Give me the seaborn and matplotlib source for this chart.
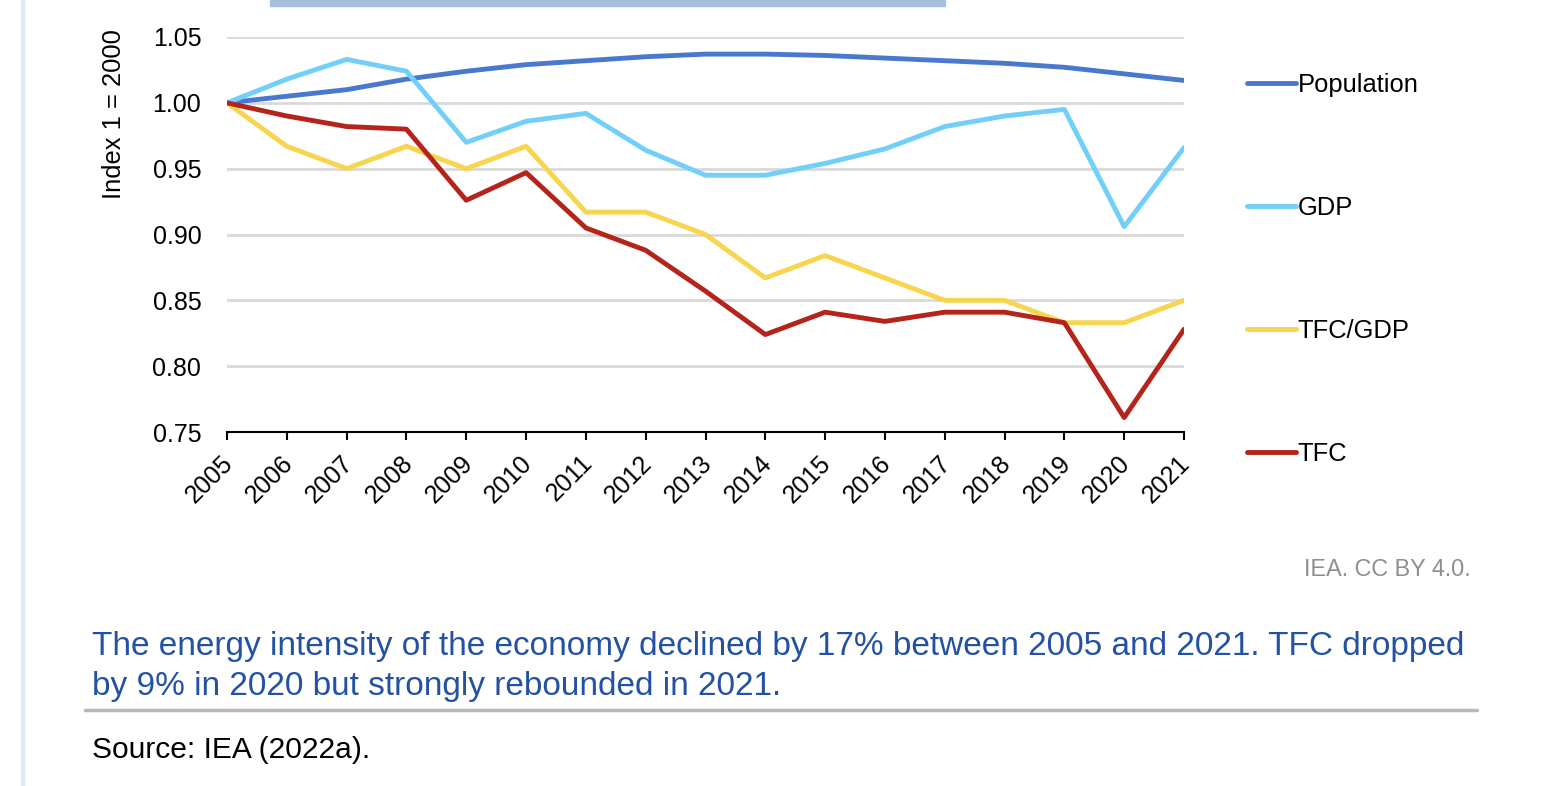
import matplotlib
matplotlib.use("Agg")
import matplotlib.pyplot as plt
import matplotlib.transforms as mtransforms
import seaborn as sns
import pandas as pd
from matplotlib.lines import Line2D
from matplotlib.patches import Rectangle

years = list(range(2005, 2022))
population = [1.000, 1.005, 1.010, 1.018, 1.024, 1.029, 1.032, 1.035, 1.037, 1.037,
              1.036, 1.034, 1.032, 1.030, 1.027, 1.022, 1.017]
gdp = [1.000, 1.018, 1.033, 1.024, 0.970, 0.986, 0.992, 0.964, 0.945, 0.945,
       0.954, 0.965, 0.982, 0.990, 0.995, 0.906, 0.966]
tfc_gdp = [1.000, 0.967, 0.950, 0.967, 0.950, 0.967, 0.917, 0.917, 0.900, 0.867,
           0.884, 0.867, 0.850, 0.850, 0.833, 0.833, 0.850]
tfc = [1.000, 0.990, 0.982, 0.980, 0.926, 0.947, 0.905, 0.888, 0.857, 0.824,
       0.841, 0.834, 0.841, 0.841, 0.833, 0.761, 0.828]

series_names = ["Population", "GDP", "TFC/GDP", "TFC"]
colors = ["#4a78cf", "#71cff8", "#f8d54e", "#b5241b"]
y_ticks = [0.75, 0.80, 0.85, 0.90, 0.95, 1.00, 1.05]

caption_lines = ["The energy intensity of the economy declined by 17% between 2005 and 2021. TFC dropped",
                 "by 9% in 2020 but strongly rebounded in 2021."]
source_text = "Source: IEA (2022a)."
credit_text = "IEA. CC BY 4.0."
y_label = "Index 1 = 2000"

df = pd.DataFrame({"year": years * 4,
                   "value": population + gdp + tfc_gdp + tfc,
                   "series": sum([[n] * len(years) for n in series_names], [])})

sns.set_theme(style="white")
plt.rcParams["font.family"] = ["Liberation Sans", "DejaVu Sans"]
plt.rcParams["text.color"] = "black"
plt.rcParams["axes.labelcolor"] = "black"
plt.rcParams["xtick.color"] = "black"
plt.rcParams["ytick.color"] = "black"

fig = plt.figure(figsize=(15.54, 7.86), dpi=100)
ax = fig.add_axes([227 / 1554, 1 - 432 / 786, (1184 - 227) / 1554, (432 - 37) / 786])

LW = 3.5
sns.lineplot(data=df, x="year", y="value", hue="series", hue_order=series_names,
             palette=colors, linewidth=LW, ax=ax, legend=False)
for ln in ax.lines:
    ln.set_solid_joinstyle("round")
    ln.set_solid_capstyle("round")

ax.set_xlim(2005, 2021)
ax.set_ylim(0.75, 1.05)
ax.set_yticks(y_ticks)
ax.set_yticklabels([f"{v:.2f}" for v in y_ticks], fontsize=18, color="black")
ax.set_xticks(years)
ax.set_xticklabels([str(y) for y in years], rotation=45, ha="right",
                   rotation_mode="anchor", fontsize=18, color="black")
ax.tick_params(axis="x", length=6, width=1.5, color="black", direction="out", pad=4, bottom=True)
ax.tick_params(axis="y", length=0, pad=18.5)
offset = mtransforms.ScaledTranslation(-6 / 100, -5 / 100, fig.dpi_scale_trans)
for lbl in ax.get_xticklabels():
    lbl.set_transform(lbl.get_transform() + offset)
ax.grid(axis="y", color="#d9d9d9", linewidth=2)
ax.set_axisbelow(True)
for s in ["top", "right", "left"]:
    ax.spines[s].set_visible(False)
ax.spines["bottom"].set_color("black")
ax.spines["bottom"].set_linewidth(1.5)
ax.spines["bottom"].set_zorder(5)
ax.set_xlabel("")
ax.set_ylabel(y_label, fontsize=18.4, color="black")
ax.yaxis.set_label_coords(-0.1055, 0.806)

handles = [Line2D([], [], color=c, linewidth=LW, solid_capstyle="round") for c in colors]
fig.legend(handles, series_names, loc="upper left", bbox_to_anchor=(1247 / 1554, 1 - 73 / 786),
           frameon=False, fontsize=18.4, handlelength=1.9, handletextpad=0.08,
           labelspacing=3.87, borderpad=0, borderaxespad=0, labelcolor="black")

# page decorations
fig.add_artist(Rectangle((270 / 1554, 1 - 6 / 786), (945 - 270) / 1554, 6 / 786,
                         transform=fig.transFigure, color="#a4c0dc", zorder=0))
fig.add_artist(Line2D([23 / 1554, 23 / 1554], [0, 1], transform=fig.transFigure,
                      color="#dfe8f6", linewidth=3))
fig.add_artist(Line2D([85 / 1554, 1477 / 1554], [1 - 710 / 786, 1 - 710 / 786],
                      transform=fig.transFigure, color="#b8b8b8", linewidth=2.5))

fig.text(1471 / 1554, 1 - 570 / 786, credit_text, ha="right", va="center",
         fontsize=16.8, color="#8e8e8e")
fig.text(92 / 1554, 1 - 647 / 786, caption_lines[0], ha="left", va="center",
         fontsize=24.0, color="#2352a3")
fig.text(92 / 1554, 1 - 687 / 786, caption_lines[1], ha="left", va="center",
         fontsize=24.0, color="#2352a3")
fig.text(92 / 1554, 1 - 750 / 786, source_text, ha="left", va="center",
         fontsize=21.6, color="black")

fig.savefig("out.png", dpi=100)
